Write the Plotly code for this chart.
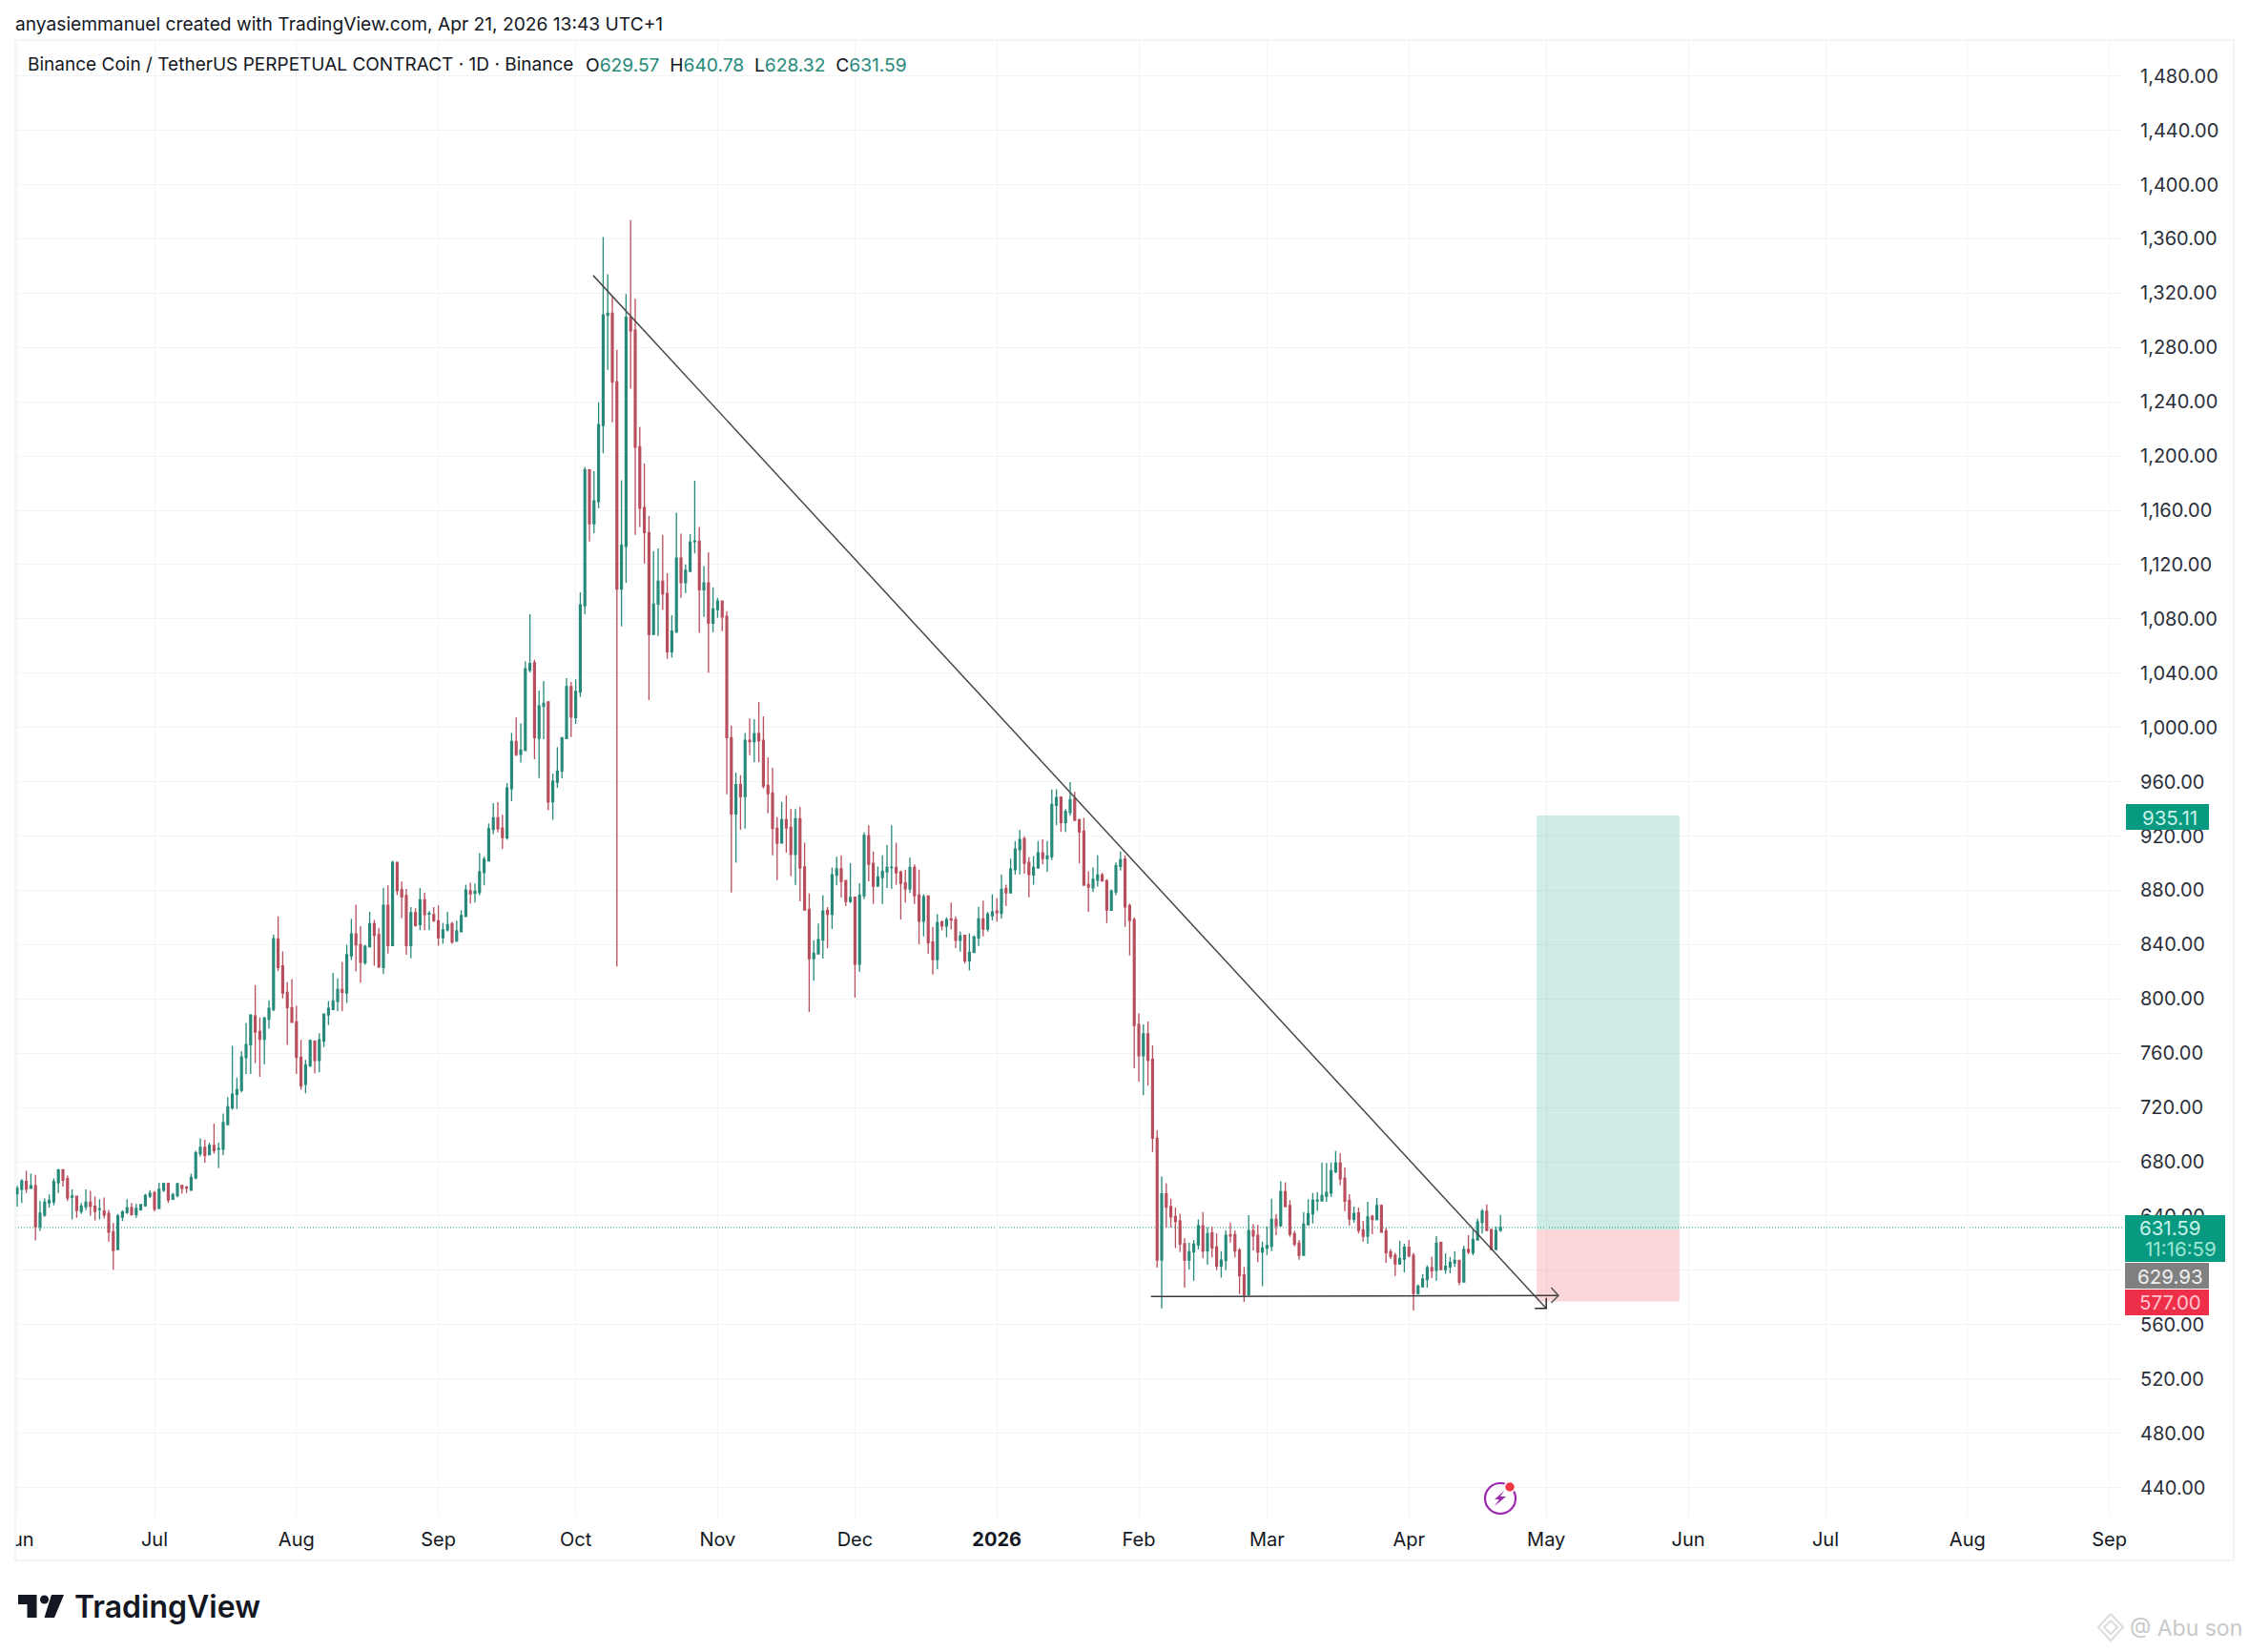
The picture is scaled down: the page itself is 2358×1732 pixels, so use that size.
import pandas as pd
import plotly.graph_objects as go

# Daily candles (first candle is Jun 1 2025, last is Apr 21 2026)
FIRST_DAY = "2025-06-01"

opens = [
    656.4, 659.7, 665.6, 660.5, 662.3, 632.2, 640.8, 649.7, 650.5, 664.5,
    673.9, 667.7, 654, 654.6, 643.5, 647, 650.3, 647.3, 644.9, 643.8,
    641.9, 628.5, 615.3, 639.2, 642.7, 646.2, 641.1, 644.6, 647.6, 654.6,
    657.2, 645.7, 659.1, 664, 652.4, 655.1, 662.6, 661.3, 659.1, 668,
    686, 690.6, 685.2, 692, 689.3, 689.3, 707.5, 719.6, 729.6, 732.6,
    756.8, 766.2, 787.4, 776.1, 770.2, 785, 792.3, 844.2, 824.3, 804.9,
    793.6, 783.1, 757, 737.1, 750.6, 768.9, 754.6, 768.9, 788.2, 792.3,
    798.2, 807, 804.4, 831.8, 847.9, 839.9, 826.7, 838.5, 855.5, 847.4,
    823.2, 868.9, 839.3, 900.6, 880.5, 876.2, 839.3, 863.5, 854.7, 873,
    862.5, 862.2, 857.6, 845.2, 850.9, 855.5, 842.6, 849.5, 860.8, 879.7,
    877.8, 878.3, 893.1, 901.7, 924.8, 933.5, 925.9, 918.7, 955, 989.7,
    980.3, 983.1, 1042.2, 1047.6, 992, 1015.5, 1018.8, 945.2, 959.7, 967.9,
    991.8, 1030, 1007.3, 1026, 1089.7, 1189.8, 1150.2, 1166.5, 1222.5, 1303.6,
    1305.2, 1254.8, 1101.9, 1133.5, 1302.2, 1292.8, 1206.8, 1162, 1143.6, 1068.6,
    1090.9, 1107.7, 1098.8, 1055.7, 1070.2, 1124.8, 1106.8, 1115.2, 1137, 1137.2,
    1101.4, 1106.6, 1076.8, 1086.9, 1093.2, 1082, 992.5, 936.3, 958.1, 949.2,
    990.6, 989.5, 995.5, 990.6, 957.4, 951.7, 925.7, 914.9, 932, 926.4,
    906.5, 932.8, 897.2, 866, 829.7, 833.2, 843.3, 865.3, 862.3, 891.1,
    895.8, 887.1, 871.9, 874.9, 825.7, 876, 920.3, 899.9, 883, 889.4,
    893.6, 896.7, 896.9, 893.6, 885.6, 881.2, 896.9, 876.5, 857.3, 875.8,
    842, 829, 856.6, 853.8, 858.9, 858.5, 843.2, 846.8, 828, 834.3,
    844.9, 858.9, 851.4, 861.3, 864.8, 863.1, 881.2, 878.1, 895.2, 910,
    918, 900.6, 891.3, 896.4, 907.7, 903.4, 904.8, 942.6, 948.7, 929.9,
    937.4, 947.5, 932, 923.6, 884.2, 881.9, 887.5, 891.3, 887, 865.3,
    878.8, 897.6, 903, 868.8, 858.5, 781.2, 758.2, 774.2, 755.4, 697.3,
    607.6, 656.4, 647, 639.7, 636.4, 619.6, 607.6, 613.5, 618.9, 632.9,
    614.4, 627.5, 617.2, 603.2, 607.2, 626.1, 626.4, 614.9, 596.6, 582.1,
    629.4, 625.9, 613.5, 616.3, 617.7, 637.6, 632.9, 658, 647.7, 627.1,
    620, 611.1, 633.6, 641.6, 651.2, 651.2, 654.7, 657, 672.7, 679.1,
    668, 651.7, 637.6, 642.3, 629.9, 625.2, 639.7, 637.4, 647.7, 628.9,
    613.7, 611.1, 604.8, 608.3, 617, 611.1, 583, 587.9, 593.1, 602,
    600.1, 620.5, 600.6, 602.5, 605.5, 607.4, 591.5, 615.4, 613, 622.4,
    635.3, 643.5, 630.1, 615.4, 629.57,
]
closes = [
    660.5, 665.9, 659.9, 662.3, 632.2, 642.2, 650.3, 651.6, 665.6, 673.9,
    666.4, 653.2, 654.8, 644.1, 647.3, 650.3, 647.3, 643.5, 645.4, 640.8,
    628.2, 614.8, 640, 643, 646, 641.1, 645.7, 648.4, 655.1, 656.7,
    645.1, 659.7, 664, 651.9, 655.9, 663.7, 660.5, 660.7, 668.5, 686.6,
    690.6, 684.7, 692, 688.2, 689.8, 708.9, 720.5, 729.9, 733.1, 757.3,
    766.4, 788.2, 775.6, 770.2, 785.8, 793, 844.4, 823.2, 804.4, 793.6,
    782.8, 757, 735.8, 751.4, 769.4, 754.6, 769.9, 788.8, 793, 798.5,
    807, 804.9, 832.6, 847.9, 839.9, 827, 838.8, 855.5, 846.9, 823.7,
    868.9, 839.3, 900.6, 879.7, 875.1, 839.3, 863.5, 854.1, 873, 862.2,
    863, 857.6, 845.2, 850.9, 854.7, 842, 850.1, 861.4, 880.2, 877.5,
    879.4, 893.7, 902.8, 925.4, 933.5, 925.4, 918.9, 955.5, 989.7, 980.1,
    983.4, 1043.3, 1047.1, 992.5, 1015.9, 1017.8, 945, 960.5, 967.9, 992.5,
    1030, 1007.7, 1026.5, 1090.4, 1189.8, 1150.2, 1167, 1223.2, 1304, 1305.2,
    1254.4, 1101.9, 1134.2, 1302.2, 1292.3, 1206.6, 1161.6, 1143.6, 1068.6, 1090.9,
    1107.8, 1098.4, 1055.7, 1071, 1124.8, 1106.8, 1115.9, 1136.5, 1137.5, 1101.4,
    1106.6, 1076.8, 1087.3, 1093.2, 1081.5, 992.5, 936.3, 957.8, 949.2, 990.6,
    989.5, 995.3, 990.2, 956.9, 951.3, 925.5, 914.7, 932, 926, 906.5,
    932.8, 896.5, 865.5, 829.7, 833.7, 843.7, 864.8, 862.3, 891.5, 895.8,
    886.6, 871.9, 874.7, 825.7, 876.5, 920.4, 899.2, 883, 889.9, 894.1,
    896.9, 897.1, 892.9, 885.2, 881.2, 896.9, 876, 857.3, 875.3, 841.4,
    829, 856.1, 853.8, 858.5, 858.2, 843.2, 846.5, 828, 834.3, 845.6,
    858.9, 851.4, 862.4, 864.1, 863.6, 880.7, 878.1, 895.7, 910.5, 917.5,
    899.9, 891.7, 896.9, 907.7, 903.4, 905.3, 943.3, 948.4, 929.9, 938.1,
    946.8, 931.6, 923.1, 883.8, 882.4, 888.2, 891.3, 887, 865.5, 879.6,
    898.3, 902.5, 867.8, 857.8, 780.5, 758.2, 774.2, 754.7, 697.3, 607.6,
    656.4, 646.5, 639.3, 636, 619.3, 607.6, 613.7, 619.3, 632.9, 614.2,
    627.1, 616.5, 603.2, 607.6, 625.9, 625.4, 614.2, 596.1, 582.1, 629.4,
    625.4, 613.5, 616.5, 618.2, 637.6, 632.9, 658, 647, 626.6, 619.3,
    611.1, 634.1, 641.8, 651.7, 651.9, 655.2, 657.5, 673.5, 679.1, 667.4,
    651, 637.8, 642, 629.4, 625.2, 639.3, 637.4, 647.7, 628.2, 613,
    610.2, 604.8, 608.8, 617, 610.7, 583, 588.4, 593.6, 602, 599.7,
    620, 600.6, 602.9, 606, 607.4, 591.5, 615.4, 613.5, 622.8, 635.7,
    643.5, 629.4, 615.4, 629.4, 631.59,
]
highs = [
    662.3, 667.2, 673.4, 671.2, 670.4, 651.1, 653, 655.9, 667.7, 674.7,
    674.7, 669.9, 659.7, 654.6, 649.7, 659.7, 658.6, 654.3, 652.4, 653.7,
    644.6, 634.9, 641.6, 644.3, 652.4, 649.7, 648.9, 648.9, 656.5, 659.1,
    658.6, 664.5, 664.5, 664.5, 657, 664.5, 663.2, 662.3, 671.2, 688.2,
    697.3, 696.2, 694.1, 708.1, 694.1, 715.6, 727.7, 765.4, 742, 761.3,
    782.3, 788.8, 810.3, 786.3, 786.9, 799, 847.4, 860.8, 835, 812.4,
    814.6, 795, 769.9, 755.1, 770.2, 769.4, 774.8, 789.3, 798.5, 819.2,
    815.1, 827.2, 839.9, 859, 869.4, 853.6, 839.9, 864.1, 858.2, 852.2,
    881.8, 883.7, 901.7, 900.6, 886.4, 881, 867.6, 866.8, 881.8, 878.3,
    864.9, 867.6, 868.9, 856, 864.1, 856.8, 857.6, 865.4, 884.2, 885.6,
    885, 907.4, 905, 929.4, 944.2, 945, 935.6, 959, 996, 1007.3,
    1003, 1048.7, 1083.4, 1049.9, 1027.2, 1034.2, 1019.5, 966, 985.5, 993,
    1036.3, 1033.5, 1035.4, 1099.6, 1192, 1190.5, 1188.8, 1239.6, 1361.4, 1334,
    1318, 1278.3, 1182.2, 1319.3, 1373.8, 1315.8, 1221.6, 1194.4, 1155.8, 1130,
    1131.9, 1141.9, 1113.6, 1082.7, 1158.3, 1142.9, 1120.1, 1142.4, 1181.8, 1147.8,
    1119, 1129.1, 1103.3, 1095.5, 1093.7, 1085.7, 1001.4, 966.7, 964.9, 996,
    1006.6, 1006.1, 1018.7, 1008.2, 978, 970.3, 933.9, 945.2, 949.9, 939.8,
    939.8, 941.4, 915.2, 877.7, 843.3, 855.5, 876.5, 867.6, 896.9, 904.7,
    905.8, 887.8, 900, 875, 885.2, 922.7, 928, 908.6, 897.6, 905.8,
    913.3, 928, 915.2, 894.5, 895.2, 904.1, 899.2, 895.2, 877.2, 876.5,
    853.1, 862.4, 857.8, 860.1, 871.1, 860.8, 849.6, 847.2, 848.4, 846.8,
    867.8, 872.5, 864.1, 877.2, 874.2, 891.7, 884.2, 903.4, 916.3, 924.5,
    919.8, 904.6, 905.3, 916.3, 917.5, 916.3, 954.3, 954.5, 949.1, 939.8,
    959.7, 952.6, 932.7, 933.4, 894.1, 896.9, 905.8, 892.9, 888.2, 880.7,
    900.6, 908.6, 905.8, 870.2, 860.2, 789.4, 781.2, 783.3, 765.7, 703.2,
    669.2, 664.1, 652.8, 646.3, 641.8, 623.6, 620.5, 622.4, 637.6, 643,
    631.8, 632.2, 627.1, 614.2, 629.4, 635.3, 629.4, 616.5, 602.5, 640.7,
    634.1, 633.4, 621.2, 632.2, 652.8, 641.6, 665.7, 665, 651.7, 629,
    622.4, 643, 652.4, 656.8, 657.5, 679.3, 679.1, 679.3, 688, 686.3,
    675.8, 656.1, 647, 646.3, 636.4, 650.5, 641.1, 653.3, 648.6, 631.3,
    615.8, 613, 621.9, 619.6, 622.4, 613, 589.6, 597.1, 603.6, 610,
    625.2, 621.2, 612.5, 610, 614.2, 607.9, 618.2, 625.9, 629.9, 638.1,
    645.3, 648.6, 630.6, 632.2, 640.78,
]
lows = [
    647, 649.7, 657, 660.5, 622, 629, 639.5, 646.2, 647.8, 657,
    661.8, 651.1, 637.6, 638.7, 641.6, 644.3, 640.3, 636.8, 637.6, 638.2,
    621, 600.5, 614.8, 636.3, 641.6, 640.3, 638.7, 644.1, 646.8, 653.2,
    643.5, 645.1, 657.8, 649.7, 651.9, 653.8, 656.5, 657, 658.6, 667.2,
    683.9, 679.3, 684.7, 686, 675.3, 684.7, 706.7, 718.3, 718.8, 731.2,
    744.7, 744.7, 752.7, 742.5, 751.9, 778, 790.9, 820.5, 800.3, 766.2,
    782.3, 744.7, 733.1, 730.4, 750, 745.2, 746, 764.6, 780.7, 792.3,
    790.9, 790.9, 797.1, 828.6, 820.5, 811.9, 825.1, 838, 824.5, 822.7,
    818.3, 833.4, 838.8, 876.4, 859.5, 832.6, 829.9, 853.3, 850.6, 850.6,
    850.6, 856.8, 839.3, 840.7, 849.5, 840.7, 842, 849, 860.3, 870.3,
    871.1, 876.4, 883.7, 901.2, 921.4, 922.7, 910.6, 917.3, 945.7, 978.9,
    974.2, 982.7, 1040.5, 976.6, 962.8, 991.3, 939, 932, 955.5, 962.5,
    991.3, 993, 1002.6, 1022.5, 1083.4, 1137, 1143.1, 1161.6, 1202.1, 1263.5,
    1224.9, 823.9, 1074.5, 1106.6, 1249.7, 1141.9, 1147.6, 1120.8, 1020.2, 1068,
    1067.5, 1086.6, 1050.6, 1051.5, 1070, 1095.5, 1099.1, 1114.3, 1128.3, 1069.8,
    1081.5, 1040.4, 1070.2, 1080.8, 1071, 950.8, 878.4, 900.4, 924.6, 925.5,
    979.6, 974.5, 974.5, 955, 936.8, 905.8, 887.6, 914.7, 907.7, 890.6,
    884, 871.9, 865.5, 790.3, 813.3, 833, 829.7, 837.4, 851.5, 883.6,
    874.9, 868.3, 870.7, 800.9, 819.9, 873.5, 886.6, 870, 883, 870,
    881.7, 881.2, 884, 858.5, 871.1, 878, 870, 840.2, 846, 833.2,
    817.9, 821.9, 850.7, 845.3, 851.2, 837.4, 834.8, 826.1, 821, 833.9,
    839, 846, 849.6, 857.8, 857, 859, 868.3, 878, 891.7, 891.7,
    892.2, 874.9, 884.2, 896, 899.2, 893.6, 902.3, 928, 923.1, 923.1,
    935, 931.1, 899.9, 883.8, 864.1, 878.8, 882.8, 886.6, 855.9, 864.8,
    876.5, 894.5, 853.1, 832, 748.9, 739, 729, 736, 687.3, 602,
    572, 631.3, 631.8, 616.5, 613.5, 587.2, 600.6, 592.4, 615.4, 609,
    604.1, 609.5, 600.1, 594.7, 600.1, 620.5, 609.5, 582.6, 576.7, 581.4,
    614.7, 606, 588.4, 611.4, 614.2, 625.9, 632.2, 647, 624.7, 617.7,
    607.9, 610.7, 633.6, 634.6, 643.9, 651, 650.5, 654, 671.6, 662.7,
    643.5, 632.9, 635.3, 627.1, 621.2, 619.6, 626.6, 636.9, 628, 605.5,
    608.3, 595.9, 604.1, 598.5, 609.5, 570.4, 582.1, 587.2, 587.2, 594.3,
    592.4, 600.1, 597.5, 597.8, 602.5, 589.1, 591.5, 611.8, 611.1, 622.4,
    627.1, 628.9, 614.7, 614.9, 628.32,
]

# Axis ticks
price_ticks = list(range(440, 1481, 40))
month_ticks = ["2025-06-01", "2025-07-01", "2025-08-01", "2025-09-01", "2025-10-01",
               "2025-11-01", "2025-12-01", "2026-01-01", "2026-02-01", "2026-03-01",
               "2026-04-01", "2026-05-01", "2026-06-01", "2026-07-01", "2026-08-01",
               "2026-09-01"]
month_labels = ["Jun", "Jul", "Aug", "Sep", "Oct", "Nov", "Dec", "<b>2026</b>", "Feb", "Mar",
                "Apr", "May", "Jun", "Jul", "Aug", "Sep"]

# Drawings on the chart
trend_dates = ["2025-10-04 20:00", "2026-05-01"]
trend_prices = [1333, 572]
trend_head_dates = ["2026-04-28 12:00", "2026-05-01", "2026-05-01"]
trend_head_prices = [572, 572, 579.7]
floor_dates = ["2026-02-03 16:00", "2026-05-03 16:00"]
floor_prices = [580.7, 581.4]
floor_head_dates = ["2026-05-02 02:00", "2026-05-03 16:00", "2026-05-02 02:00"]
floor_head_prices = [587.2, 581.4, 576]

# Long position box
LONG_START = "2026-04-28 22:00"
LONG_END = "2026-05-30 02:00"
TARGET = 935.11
ENTRY = 629.93
STOP = 577.00
LAST = 631.59

X_RANGE = ["2025-05-31 14:00", "2026-09-03 19:00"]
Y_RANGE = [418.6, 1506.5]

GREEN = "#26897a"
RED = "#b84d5c"
TEXT = "#2a2e39"
GRID = "#f3f4f6"
FONT = "Inter"

# Pixel box of the price pane, the frame is a bit larger
WIDTH, HEIGHT = 2358, 1732
PANE_LEFT, PANE_RIGHT, PANE_TOP, PANE_BOTTOM = 16, 2225, 42, 1590


def px_x(px):
    return (px - PANE_LEFT) / (PANE_RIGHT - PANE_LEFT)


def px_y(px):
    return (PANE_BOTTOM - px) / (PANE_BOTTOM - PANE_TOP)


def paper_rect(x0, y0, x1, y1, color):
    return dict(type="rect", xref="paper", yref="paper", x0=px_x(x0), x1=px_x(x1),
                y0=px_y(y0), y1=px_y(y1), fillcolor=color, line=dict(width=0), layer="above")


def paper_path(points, fill=None, line=None, width=0):
    d = "M " + " L ".join(f"{px_x(x):.5f},{px_y(y):.5f}" for x, y in points)
    if fill:
        d += " Z"
    return dict(type="path", xref="paper", yref="paper", path=d, layer="above",
                fillcolor=fill or "rgba(0,0,0,0)",
                line=dict(color=line or "rgba(0,0,0,0)", width=width))


def paper_text(x, y, text, size, color, anchor="left", weight=None):
    font = dict(family=FONT, size=size, color=color)
    if weight:
        font["weight"] = weight
    return dict(xref="paper", yref="paper", x=px_x(x), y=px_y(y), text=text, showarrow=False,
                xanchor=anchor, yanchor="middle", font=font, borderpad=0, borderwidth=0)


dates = pd.date_range(FIRST_DAY, periods=len(closes), freq="D")

fig = go.Figure()
fig.add_trace(go.Candlestick(
    x=dates, open=opens, high=highs, low=lows, close=closes,
    increasing=dict(line=dict(color=GREEN, width=1.3), fillcolor=GREEN),
    decreasing=dict(line=dict(color=RED, width=1.3), fillcolor=RED),
    whiskerwidth=0, showlegend=False, hoverinfo="skip",
))

for xs, ys, color in [(trend_dates, trend_prices, "#4a4a4a"),
                      (trend_head_dates, trend_head_prices, "#2a2a2a"),
                      (floor_dates, floor_prices, "#3a3a3a"),
                      (floor_head_dates, floor_head_prices, "#555555")]:
    fig.add_trace(go.Scatter(x=xs, y=ys, mode="lines", line=dict(color=color, width=1.5),
                             showlegend=False, hoverinfo="skip"))

shapes = [
    # long position box
    dict(type="rect", xref="x", yref="y", x0=LONG_START, x1=LONG_END, y0=ENTRY, y1=TARGET,
         fillcolor="rgba(8,153,129,0.2)", line=dict(width=0), layer="between"),
    dict(type="rect", xref="x", yref="y", x0=LONG_START, x1=LONG_END, y0=STOP, y1=ENTRY,
         fillcolor="rgba(242,54,69,0.2)", line=dict(width=0), layer="between"),
    # last price line
    dict(type="line", xref="paper", yref="y", x0=0, x1=1, y0=LAST, y1=LAST,
         line=dict(color="#089981", width=1, dash="1px,2px"), layer="between"),
    # hides the J of the first month label, the chart cuts it off there
    paper_rect(0, PANE_BOTTOM + 2, PANE_LEFT, 1634, "white"),
    # frame
    dict(type="rect", xref="paper", yref="paper", x0=0, x1=px_x(2342), y0=px_y(1636), y1=1,
         line=dict(color="#f0f1f3", width=1.5), layer="above"),
    # price tags on the right
    paper_rect(2229, 843, 2316, 870, "#089981"),
    paper_rect(2228, 1274, 2333, 1323, "#089981"),
    paper_rect(2228, 1324, 2316, 1351, "#808080"),
    paper_rect(2228, 1352, 2316, 1379, "#ee2f4a"),
    # TradingView logo
    paper_path([(19, 1672), (38.5, 1672), (38.5, 1696), (28.5, 1696), (28.5, 1682), (19, 1682)], fill="#131722"),
    dict(type="circle", xref="paper", yref="paper", x0=px_x(42), x1=px_x(51), y0=px_y(1681.5), y1=px_y(1672.5),
         fillcolor="#131722", line=dict(width=0), layer="above"),
    paper_path([(54, 1672), (67, 1672), (57, 1696), (46.5, 1696)], fill="#131722"),
    # flash icon
    dict(type="circle", xref="paper", yref="paper", x0=px_x(1557), x1=px_x(1589), y0=px_y(1587), y1=px_y(1555),
         line=dict(color="#9c27b0", width=2.2), layer="above"),
    paper_path([(1577, 1563), (1567, 1572), (1572, 1572), (1567, 1579), (1579, 1569), (1573, 1569)], fill="#9c27b0"),
    dict(type="circle", xref="paper", yref="paper", x0=px_x(1577.5), x1=px_x(1588.5), y0=px_y(1564.5), y1=px_y(1553.5),
         fillcolor="#f23645", line=dict(color="white", width=1.5), layer="above"),
    # watermark diamond
    paper_path([(2213, 1692), (2226, 1706), (2213, 1720), (2200, 1706), (2213, 1692)], line="#dcdcdc", width=2),
    paper_path([(2213, 1699), (2220, 1706), (2213, 1713), (2206, 1706), (2213, 1699)], line="#dcdcdc", width=2),
]

legend_sep = "\u00a0\u00a0"
ohlc_text = (
    f'O<span style="color:{GREEN}">629.57</span>' + legend_sep
    + f'H<span style="color:{GREEN}">640.78</span>' + legend_sep
    + f'L<span style="color:{GREEN}">628.32</span>' + legend_sep
    + f'C<span style="color:{GREEN}">631.59</span>'
)

annotations = [
    paper_text(16, 25, "anyasiemmanuel created with TradingView.com, Apr 21, 2026 13:43 UTC+1", 19.2, "#131722"),
    paper_text(29, 68, "Binance Coin / TetherUS PERPETUAL CONTRACT · 1D · Binance", 19.05, "#131722"),
    paper_text(613.5, 68, ohlc_text, 19.2, "#131722"),
    paper_text(2275, 857, "935.11", 20.5, "#c8f3e8", anchor="center"),
    paper_text(2275, 1287, "631.59", 20.5, "#c8f3e8", anchor="center"),
    paper_text(2286, 1309, "11:16:59", 20.5, "#9fe6d4", anchor="center"),
    paper_text(2275, 1338, "629.93", 20.5, "#f0f0f0", anchor="center"),
    paper_text(2275, 1365, "577.00", 20.5, "#ffc4cc", anchor="center"),
    paper_text(78, 1684, "TradingView", 32, "#131722", weight=600),
    paper_text(2233, 1707, "@ Abu son", 23, "#c9c9c9"),
]

fig.update_layout(
    width=WIDTH, height=HEIGHT, autosize=False,
    margin=dict(l=PANE_LEFT, r=WIDTH - PANE_RIGHT, t=PANE_TOP, b=HEIGHT - PANE_BOTTOM, pad=0),
    paper_bgcolor="white", plot_bgcolor="white",
    font=dict(family=FONT, size=20, color=TEXT),
    showlegend=False, boxgap=0.45, shapes=shapes, annotations=annotations,
)
fig.update_xaxes(
    type="date", range=X_RANGE, rangeslider=dict(visible=False), automargin=False,
    tickmode="array", tickvals=month_ticks, ticktext=month_labels, ticks="",
    tickfont=dict(family=FONT, size=20, color="#131722"), ticklabelstandoff=10,
    showgrid=True, gridcolor=GRID, gridwidth=1, showline=False, zeroline=False,
)
fig.update_yaxes(
    side="right", range=Y_RANGE, automargin=False, tickmode="array", tickvals=price_ticks,
    ticktext=[f"{p:,.2f}" for p in price_ticks], ticks="",
    tickfont=dict(family=FONT, size=20, color=TEXT), ticklabelstandoff=18,
    showgrid=True, gridcolor=GRID, gridwidth=1, showline=False, zeroline=False,
)

fig.write_html("out.html", config=dict(displayModeBar=False),
               post_script="document.body.style.margin='0';")
